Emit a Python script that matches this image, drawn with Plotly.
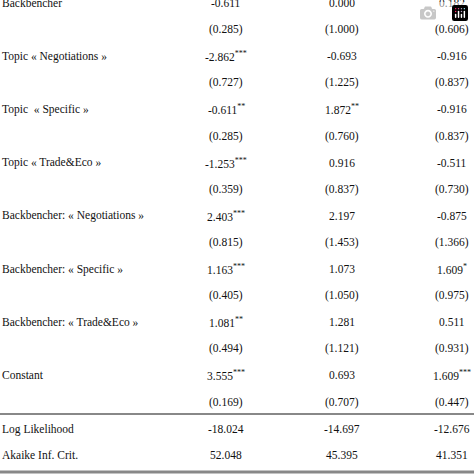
import plotly.graph_objects as go

labels = ["Backbencher", "", "Topic « Negotiations »", "", "Topic  « Specific »", "",
          "Topic « Trade&Eco »", "", "Backbencher: « Negotiations »", "",
          "Backbencher: « Specific »", "", "Backbencher: « Trade&Eco »", "",
          "Constant", "", "Log Likelihood", "Akaike Inf. Crit."]
col1 = ["-0.611", "(0.285)", "-2.862<sup>***</sup>", "(0.727)", "-0.611<sup>**</sup>", "(0.285)",
        "-1.253<sup>***</sup>", "(0.359)", "2.403<sup>***</sup>", "(0.815)",
        "1.163<sup>***</sup>", "(0.405)", "1.081<sup>**</sup>", "(0.494)",
        "3.555<sup>***</sup>", "(0.169)", "-18.024", "52.048"]
col2 = ["0.000", "(1.000)", "-0.693", "(1.225)", "1.872<sup>**</sup>", "(0.760)",
        "0.916", "(0.837)", "2.197", "(1.453)", "1.073", "(1.050)", "1.281", "(1.121)",
        "0.693", "(0.707)", "-14.697", "45.395"]
col3 = ["0.182", "(0.606)", "-0.916", "(0.837)", "-0.916", "(0.837)", "-0.511", "(0.730)",
        "-0.875", "(1.366)", "1.609<sup>*</sup>", "(0.975)", "0.511", "(0.931)",
        "1.609<sup>***</sup>", "(0.447)", "-12.676", "41.351"]

row_y = [3 + 26.6 * i for i in range(16)] + [429, 455]
col_x = [226, 342, 452]

font = dict(family="Liberation Serif, Times New Roman, serif", size=11.5, color="#111")
ann = []
for i, lab in enumerate(labels):
    if lab:
        ann.append(dict(x=0, y=row_y[i], text=lab, xanchor="left", yanchor="middle",
                        showarrow=False, font=font, xref="x", yref="y"))
    for cx, col in zip(col_x, (col1, col2, col3)):
        ann.append(dict(x=cx, y=row_y[i], text=col[i], xanchor="center", yanchor="middle",
                        showarrow=False, font=font, xref="x", yref="y"))

fig = go.Figure()
fig.update_layout(
    width=474, height=474, margin=dict(l=0, r=0, t=0, b=0),
    paper_bgcolor="white", plot_bgcolor="white",
    xaxis=dict(range=[0, 474], visible=False, fixedrange=True),
    yaxis=dict(range=[474, 0], visible=False, fixedrange=True),
    annotations=ann, showlegend=False,
    shapes=[
        dict(type="line", xref="paper", x0=0, x1=1, yref="y", y0=414, y1=414,
             line=dict(color="#888", width=2)),
        dict(type="line", xref="paper", x0=0, x1=1, yref="y", y0=472, y1=472,
             line=dict(color="#888", width=3)),
    ],
)
fig.write_html("out.html",
               post_script="document.body.style.margin='0';document.body.style.overflow='hidden';")
